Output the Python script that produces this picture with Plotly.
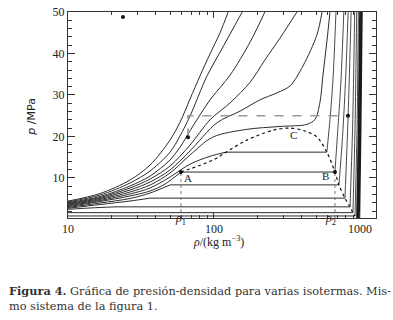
import numpy as np
import plotly.graph_objects as go

# ---------------- data (density kg m^-3, pressure MPa) ----------------
# supercritical isotherms (highest temperature first)
t1_rho = [10, 16.6, 26.6, 36.5, 50.0, 58.5, 68.5, 80.2, 93.9, 110, 125]
t1_p = [4.39, 6.22, 9.48, 13.1, 19.1, 23.4, 29.0, 34.6, 39.9, 45.0, 50.0]
t2_rho = [10, 16.6, 26.6, 36.5, 50.0, 58.5, 68.5, 89.6, 110, 156]
t2_p = [4.20, 5.86, 8.76, 11.65, 16.2, 20.1, 24.9, 34.6, 40.3, 50.0]
t3_rho = [10, 16.6, 26.6, 36.5, 50.0, 58.5, 71.8, 93.9, 129, 177, 223]
t3_p = [4.00, 5.50, 8.03, 10.44, 14.3, 17.4, 22.5, 28.8, 34.8, 42.8, 50.0]
t4_rho = [10, 16.6, 26.6, 36.5, 50.0, 68.5, 93.9, 129, 177, 223, 283, 370]
t4_p = [3.81, 5.26, 7.55, 9.72, 12.86, 17.9, 24.0, 28.1, 33.1, 38.4, 43.7, 50.0]
t5_rho = [10, 16.6, 26.6, 36.5, 50.0, 68.5, 105, 151, 206, 270, 332, 407, 507, 550]
t5_p = [3.62, 5.02, 7.07, 9.00, 11.9, 16.5, 23.3, 26.1, 28.8, 30.5, 32.2, 37.0, 44.5, 50.0]
tc_rho = [10, 16.6, 26.6, 36.5, 50.0, 68.5, 97.8, 168, 283, 433, 492, 532, 558, 594, 623]
tc_p = [3.45, 4.78, 6.58, 8.27, 11.17, 15.5, 19.8, 21.7, 22.4, 22.9, 24.1, 28.2, 34.8, 43.0, 50.0]

# subcritical isotherms: gas branch, tie-line pressure, liquid branch
t6_gas_rho = [10, 16.6, 26.6, 36.5, 50.0, 68.5, 93.9, 121]
t6_gas_p = [3.26, 4.53, 6.10, 7.55, 10.2, 13.3, 15.2, 16.2]
t6_liq_rho = [593, 623, 653, 685]
t6_liq_p = [16.2, 24.0, 33.6, 50.0]

t7_gas_rho = [10, 16.6, 26.6, 36.5, 46.2, 59.4]
t7_gas_p = [3.06, 4.29, 5.62, 6.83, 8.51, 11.4]
t7_liq_rho = [674, 700, 740, 775]
t7_liq_p = [11.4, 20.0, 33.0, 50.0]

t8_gas_rho = [10, 16.6, 26.6, 36.5, 50.0]
t8_gas_p = [2.85, 3.93, 5.02, 6.34, 8.3]
t8_liq_rho = [718, 760, 800, 830]
t8_liq_p = [8.3, 20.0, 35.0, 50.0]

t9_gas_rho = [10, 16.6, 26.6, 36.5]
t9_gas_p = [2.65, 3.57, 4.41, 5.1]
t9_liq_rho = [789, 830, 870]
t9_liq_p = [5.1, 25.0, 50.0]

t10_gas_rho = [10, 14.2, 21.0]
t10_gas_p = [2.41, 2.73, 3.0]
t10_liq_rho = [855, 890, 920]
t10_liq_p = [3.0, 22.0, 50.0]

t11_gas_rho = [10]
t11_gas_p = [1.6]
t11_liq_rho = [895, 925, 950]
t11_liq_p = [1.6, 22.0, 50.0]

t12_gas_rho = [10]
t12_gas_p = [0.8]
t12_liq_rho = [925, 955, 975]
t12_liq_p = [0.8, 22.0, 50.0]

# liquid branches of the coldest isotherms (tie lines below the frame)
t13_liq_rho = [955, 980, 1000]
t13_liq_p = [0.3, 22.0, 50.0]
t14_liq_rho = [975, 1000, 1020]
t14_liq_p = [0.3, 22.0, 50.0]
t15_liq_rho = [990, 1010, 1030]
t15_liq_p = [0.3, 22.0, 50.0]

# coexistence curve (from A over C to the liquid side)
coex_rho = [59.4, 98.4, 121, 168, 254, 332, 420, 507, 593, 674, 718, 789, 855, 895, 925]
coex_p = [11.4, 14.3, 16.2, 19.1, 21.5, 22.0, 21.3, 19.85, 16.2, 11.4, 8.3, 5.1, 3.0, 1.6, 0.8]

rho1, rho2, p_ab = 59.4, 674, 11.4
c_rho, c_p = 332, 22.0
dash_rho = [66.4, 66.4, 828]
dash_p = [19.8, 25.0, 25.0]
stray_rho, stray_p = 23.8, 48.8

x_ticks = [10, 100, 1000]
x_minor = [20, 30, 40, 50, 60, 70, 80, 90, 200, 300, 400, 500, 600, 700, 800, 900]
y_ticks = [10, 20, 30, 40, 50]
p_min = 0.31

# ---------------- figure ----------------
fig = go.Figure()
ISO = "#2b2b2b"
LIQ = "#4a4a4a"


def line(x, y, color=ISO, width=1.0, dash="solid", shape="spline"):
    fig.add_trace(go.Scatter(x=x, y=y, mode="lines",
                             line=dict(color=color, width=width, dash=dash,
                                       shape=shape, smoothing=0.9),
                             hoverinfo="skip", showlegend=False))


for rx, py in [(t1_rho, t1_p), (t2_rho, t2_p), (t3_rho, t3_p),
               (t4_rho, t4_p), (t5_rho, t5_p), (tc_rho, tc_p)]:
    line(rx, py)

subs = [(t6_gas_rho, t6_gas_p, t6_liq_rho, t6_liq_p),
        (t7_gas_rho, t7_gas_p, t7_liq_rho, t7_liq_p),
        (t8_gas_rho, t8_gas_p, t8_liq_rho, t8_liq_p),
        (t9_gas_rho, t9_gas_p, t9_liq_rho, t9_liq_p),
        (t10_gas_rho, t10_gas_p, t10_liq_rho, t10_liq_p),
        (t11_gas_rho, t11_gas_p, t11_liq_rho, t11_liq_p),
        (t12_gas_rho, t12_gas_p, t12_liq_rho, t12_liq_p)]
for grx, gp, lrx, lp in subs:
    if len(grx) > 1:
        line(grx, gp)
    line([grx[-1], lrx[0]], [gp[-1], lp[0]], shape="linear")
    line(lrx, lp, color=LIQ)
for lrx, lp in [(t13_liq_rho, t13_liq_p), (t14_liq_rho, t14_liq_p),
                (t15_liq_rho, t15_liq_p)]:
    line(lrx, lp, color="#1a1a1a", width=1.8)

# vertical dotted guides at rho1, rho2
line([rho1, rho1], [p_min, p_ab], color="#777", dash="dot", shape="linear")
line([rho2, rho2], [p_min, p_ab], color="#777", dash="dot", shape="linear")

# coexistence curve
line(coex_rho, coex_p, color="#111", width=1.2, dash="dot")

# grey dashed path
line(dash_rho, dash_p, color="#999", width=1.6, dash="dash", shape="linear")

# points
fig.add_trace(go.Scatter(x=[rho1, rho2, dash_rho[0], dash_rho[-1], stray_rho],
                         y=[p_ab, p_ab, dash_p[0], dash_p[-1], stray_p],
                         mode="markers", marker=dict(color="#111", size=4),
                         hoverinfo="skip", showlegend=False))

SERIF = "Liberation Serif"
ann = []
ann.append(dict(x=np.log10(rho1), y=p_ab, xref="x", yref="y", text="A",
                showarrow=False, xshift=7, yshift=-6,
                font=dict(family=SERIF, size=11, color="#222")))
ann.append(dict(x=np.log10(rho2), y=p_ab, xref="x", yref="y", text="B",
                showarrow=False, xshift=-9, yshift=-4,
                font=dict(family=SERIF, size=11, color="#222")))
ann.append(dict(x=np.log10(c_rho), y=c_p, xref="x", yref="y", text="C",
                showarrow=False, xshift=3, yshift=-7,
                font=dict(family=SERIF, size=11, color="#222")))
ann.append(dict(x=np.log10(rho1), y=-0.055, xref="x", yref="paper",
                text="<i>ρ</i><sub>1</sub>", showarrow=False,
                font=dict(family=SERIF, size=12, color="#222")))
ann.append(dict(x=np.log10(rho2) - 0.03, y=-0.055, xref="x", yref="paper",
                text="<i>ρ</i><sub>2</sub>", showarrow=False,
                font=dict(family=SERIF, size=12, color="#222")))
ann.append(dict(x=0.49, y=-0.066, xref="paper", yref="paper", yanchor="top",
                text="<i>ρ</i>/(kg m<sup>−3</sup>)", showarrow=False,
                font=dict(family=SERIF, size=12, color="#222")))
ann.append(dict(x=-0.149, y=0.49, xref="paper", yref="paper",
                text="<i>p</i> /MPa", textangle=-90, showarrow=False,
                font=dict(family="DejaVu Sans", size=11, color="#222")))
ann.append(dict(x=-0.198, y=-0.31, xref="paper", yref="paper",
                xanchor="left", yanchor="top", align="left",
                text="<b>Figura 4.</b> Gráfica de presión-densidad para varias isotermas. Mis-<br>mo sistema de la figura 1.",
                showarrow=False,
                font=dict(family="DejaVu Serif", size=11.3, color="#333")))

fig.update_layout(
    template="none",
    width=393, height=320,
    margin=dict(l=68, r=17, t=12, b=102),
    paper_bgcolor="white", plot_bgcolor="white",
    annotations=ann,
    xaxis=dict(type="log", range=[1, np.log10(1288)], automargin=False,
               showline=True, linecolor="#333", linewidth=1, mirror="allticks",
               ticks="inside", ticklen=6, tickcolor="#333",
               tickmode="array", tickvals=x_ticks,
               ticktext=[str(v) for v in x_ticks],
               tickfont=dict(family=SERIF, size=12, color="#222"),
               minor=dict(tickmode="array", tickvals=x_minor, ticks="inside",
                          ticklen=3, tickcolor="#333"),
               showgrid=False, zeroline=False),
    yaxis=dict(range=[p_min, 50.02], automargin=False,
               showline=True, linecolor="#333", linewidth=1, mirror="allticks",
               ticks="inside", ticklen=7, tickcolor="#333",
               tickmode="array", tickvals=y_ticks,
               ticktext=[str(v) for v in y_ticks],
               tickfont=dict(family=SERIF, size=12, color="#222"),
               minor=dict(dtick=2, tick0=0, ticks="inside", ticklen=4,
                          tickcolor="#333"),
               showgrid=False, zeroline=False),
)

fig.write_html("out.html", config={"displayModeBar": False},
               post_script="document.body.style.margin='0';")
